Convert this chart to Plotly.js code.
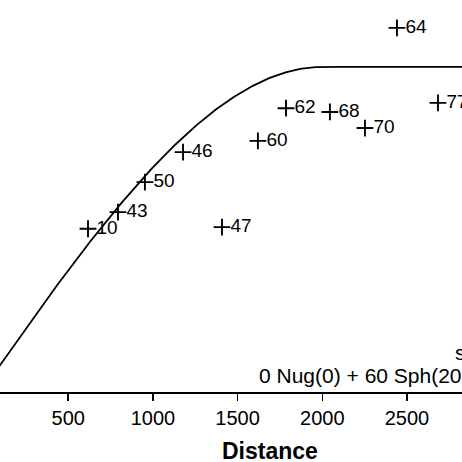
<!DOCTYPE html>
<html>
<head>
<meta charset="utf-8">
<script src="https://cdn.plot.ly/plotly-3.0.1.min.js"></script>
<style>
  html, body { margin: 0; padding: 0; background: #fff; }
  #plot { width: 462px; height: 462px; }
</style>
</head>
<body>
<div id="plot"></div>
<script>
// Sample variogram: lag distance, semivariance and number of point pairs per lag
const lagDist   = [617, 794, 953, 1178, 1408, 1620, 1786, 2045, 2252, 2441, 2683];
const gammaVals = [29.8, 32.9, 38.5, 44.1, 30.1, 46.2, 52.3, 51.6, 48.6, 67.3, 53.3];
const pairCount = [10, 43, 50, 46, 47, 60, 62, 68, 70, 64, 77];

// Fitted model: nugget + spherical component
const nugget = 0;
const psill = 60;
const modelRange = 2000;
const xTicks = [500, 1000, 1500, 2000, 2500];

function spherical(h) {
  if (h <= 0) return 0;
  if (h >= modelRange) return nugget + psill;
  const r = h / modelRange;
  return nugget + psill * (1.5 * r - 0.5 * r * r * r);
}

const modelX = [];
const modelY = [];
for (let h = 0; h <= 3000; h += 10) {
  modelX.push(h);
  modelY.push(spherical(h));
}

const font = "Liberation Sans, Arial, Helvetica, sans-serif";

const traces = [
  {
    x: modelX, y: modelY,
    type: "scatter", mode: "lines",
    line: { color: "#000", width: 1.8 },
    hoverinfo: "skip"
  },
  {
    x: lagDist, y: gammaVals,
    type: "scatter", mode: "markers+text",
    text: pairCount.map(String),
    textposition: "middle right",
    textfont: { family: font, size: 19, color: "#000" },
    marker: { symbol: "cross-thin", size: 12, line: { color: "#000", width: 1.9 } },
    cliponaxis: false
  }
];

const layout = {
  width: 462, height: 462,
  margin: { l: 0, r: 0, t: 0, b: 70 },
  paper_bgcolor: "#fff", plot_bgcolor: "#fff",
  showlegend: false,
  xaxis: {
    range: [97.4, 2825],
    tickvals: xTicks,
    ticktext: xTicks.map(String),
    ticks: "outside", ticklen: 7, tickwidth: 1.5, tickcolor: "#000",
    showline: true, linecolor: "#000", linewidth: 1.5,
    showgrid: false, zeroline: false,
    tickfont: { family: font, size: 20, color: "#000" }
  },
  yaxis: {
    range: [-0.67, 72.5],
    showline: false, showgrid: false, zeroline: false,
    showticklabels: false, ticks: ""
  },
  annotations: [
    {
      text: "<b>Distance</b>",
      xref: "paper", yref: "paper",
      x: 0.584, y: -0.151, xanchor: "center", yanchor: "middle",
      showarrow: false,
      font: { family: font, size: 23, color: "#000" }
    },
    {
      text: "0 Nug(0) + 60 Sph(2000)",
      xref: "paper", yref: "paper",
      x: 257 / 462, y: (392 - 375) / 392, xanchor: "left", yanchor: "middle",
      showarrow: false,
      font: { family: font, size: 21, color: "#000" }
    },
    {
      text: "sill",
      xref: "paper", yref: "paper",
      x: 453 / 462, y: (392 - 352) / 392, xanchor: "left", yanchor: "middle",
      showarrow: false,
      font: { family: font, size: 21, color: "#000" }
    }
  ]
};

Plotly.newPlot("plot", traces, layout, { staticPlot: true, displayModeBar: false });
</script>
</body>
</html>
